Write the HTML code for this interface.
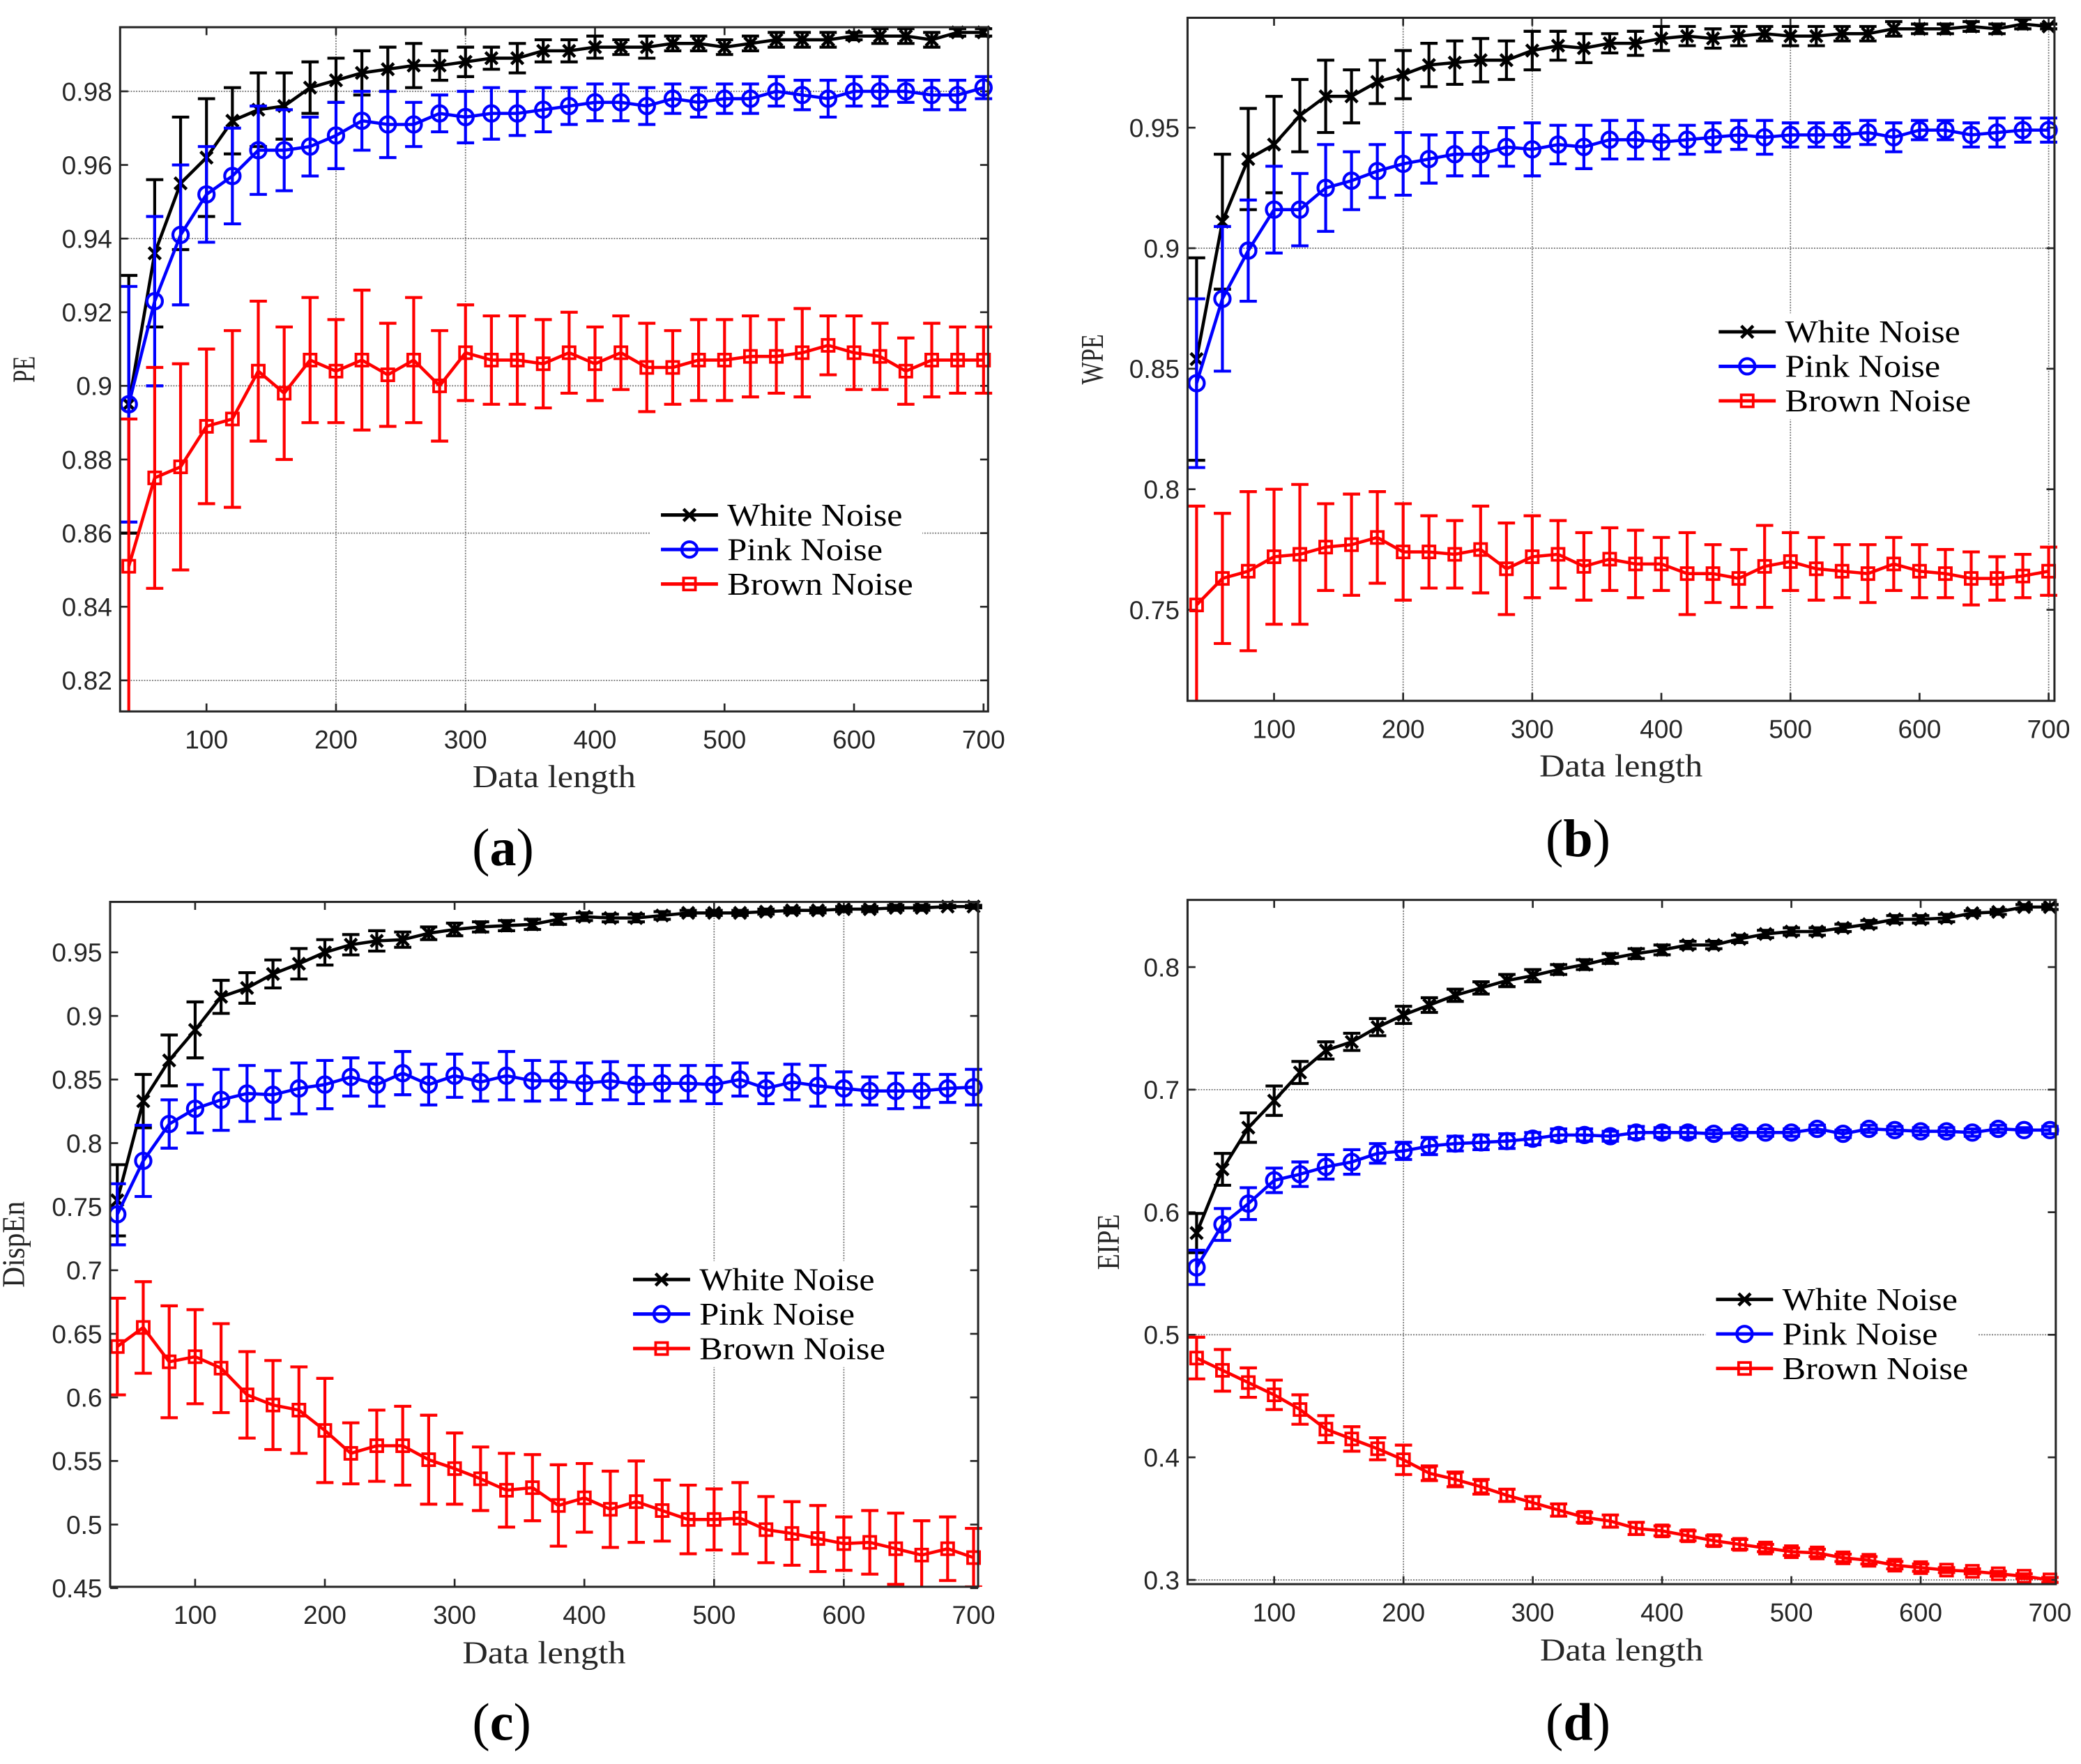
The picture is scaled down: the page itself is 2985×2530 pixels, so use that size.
<!DOCTYPE html>
<html><head><meta charset="utf-8"><style>
html,body{margin:0;padding:0;background:#fff;}
svg{display:block;}
</style></head><body>
<svg id="fig" width="2985" height="2530" viewBox="0 0 1568 1329" preserveAspectRatio="none" xmlns="http://www.w3.org/2000/svg"></svg>
<script>
const xs = [40,60,80,100,120,140,160,180,200,220,240,260,280,300,320,340,360,380,400,420,440,460,480,500,520,540,560,580,600,620,640,660,680,700];
const xTicks = [100,200,300,400,500,600,700];

const peWhite = [0.895,0.936,0.955,0.962,0.972,0.975,0.976,0.981,0.983,0.985,0.986,0.987,0.987,0.988,0.989,0.989,0.991,0.991,0.992,0.992,0.992,0.993,0.993,0.992,0.993,0.994,0.994,0.994,0.995,0.995,0.995,0.994,0.996,0.996];
const peWhiteErr = [0.035,0.02,0.018,0.016,0.009,0.01,0.009,0.007,0.006,0.006,0.006,0.006,0.004,0.004,0.003,0.004,0.003,0.003,0.003,0.002,0.003,0.002,0.002,0.002,0.002,0.002,0.002,0.002,0.001,0.002,0.002,0.002,0.001,0.001];
const pePink = [0.895,0.923,0.941,0.952,0.957,0.964,0.964,0.965,0.968,0.972,0.971,0.971,0.974,0.973,0.974,0.974,0.975,0.976,0.977,0.977,0.976,0.978,0.977,0.978,0.978,0.980,0.979,0.978,0.980,0.980,0.980,0.979,0.979,0.981];
const pePinkErr = [0.032,0.023,0.019,0.013,0.013,0.012,0.011,0.008,0.009,0.008,0.009,0.006,0.005,0.007,0.007,0.006,0.006,0.005,0.005,0.005,0.005,0.004,0.004,0.004,0.004,0.004,0.004,0.005,0.004,0.004,0.003,0.004,0.004,0.003];
const peBrown = [0.851,0.875,0.878,0.889,0.891,0.904,0.898,0.907,0.904,0.907,0.903,0.907,0.900,0.909,0.907,0.907,0.906,0.909,0.906,0.909,0.905,0.905,0.907,0.907,0.908,0.908,0.909,0.911,0.909,0.908,0.904,0.907,0.907,0.907];
const peBrownErr = [0.04,0.030,0.028,0.021,0.024,0.019,0.018,0.017,0.014,0.019,0.014,0.017,0.015,0.013,0.012,0.012,0.012,0.011,0.010,0.010,0.012,0.010,0.011,0.011,0.011,0.010,0.012,0.008,0.010,0.009,0.009,0.010,0.009,0.009];
const peTicks = [0.82,0.84,0.86,0.88,0.9,0.92,0.94,0.96,0.98];

const wpeWhite = [0.854,0.911,0.937,0.943,0.955,0.963,0.963,0.969,0.972,0.976,0.977,0.978,0.978,0.982,0.984,0.983,0.985,0.985,0.987,0.988,0.987,0.988,0.989,0.988,0.988,0.989,0.989,0.991,0.991,0.991,0.992,0.991,0.993,0.992];
const wpeWhiteErr = [0.042,0.028,0.021,0.02,0.015,0.015,0.011,0.009,0.01,0.009,0.009,0.009,0.008,0.008,0.006,0.006,0.004,0.005,0.005,0.004,0.004,0.004,0.003,0.004,0.004,0.003,0.003,0.003,0.002,0.002,0.002,0.002,0.002,0.001];
const wpePink = [0.844,0.879,0.899,0.916,0.916,0.925,0.928,0.932,0.935,0.937,0.939,0.939,0.942,0.941,0.943,0.942,0.945,0.945,0.944,0.945,0.946,0.947,0.946,0.947,0.947,0.947,0.948,0.946,0.949,0.949,0.947,0.948,0.949,0.949];
const wpePinkErr = [0.035,0.03,0.021,0.018,0.015,0.018,0.012,0.011,0.013,0.01,0.009,0.009,0.008,0.011,0.008,0.009,0.008,0.008,0.007,0.006,0.006,0.006,0.007,0.005,0.005,0.005,0.005,0.006,0.004,0.004,0.005,0.006,0.005,0.005];
const wpeBrown = [0.752,0.763,0.766,0.772,0.773,0.776,0.777,0.780,0.774,0.774,0.773,0.775,0.767,0.772,0.773,0.768,0.771,0.769,0.769,0.765,0.765,0.763,0.768,0.770,0.767,0.766,0.765,0.769,0.766,0.765,0.763,0.763,0.764,0.766];
const wpeBrownErr = [0.041,0.027,0.033,0.028,0.029,0.018,0.021,0.019,0.02,0.015,0.014,0.018,0.019,0.017,0.014,0.014,0.013,0.014,0.011,0.017,0.012,0.012,0.017,0.012,0.013,0.011,0.012,0.011,0.011,0.010,0.011,0.009,0.009,0.010];
const wpeTicks = [0.75,0.8,0.85,0.9,0.95];

const dispWhite = [0.755,0.833,0.865,0.889,0.915,0.922,0.933,0.941,0.950,0.956,0.959,0.960,0.965,0.968,0.970,0.971,0.972,0.976,0.978,0.977,0.977,0.979,0.981,0.981,0.981,0.982,0.983,0.983,0.984,0.984,0.985,0.985,0.986,0.986];
const dispWhiteErr = [0.028,0.021,0.02,0.022,0.013,0.012,0.011,0.012,0.010,0.008,0.008,0.006,0.005,0.005,0.004,0.004,0.004,0.004,0.003,0.003,0.003,0.003,0.002,0.002,0.002,0.002,0.002,0.002,0.002,0.002,0.002,0.002,0.001,0.001];
const dispPink = [0.744,0.786,0.815,0.827,0.834,0.839,0.838,0.843,0.846,0.852,0.846,0.855,0.846,0.853,0.848,0.853,0.849,0.849,0.847,0.849,0.846,0.847,0.847,0.846,0.850,0.843,0.848,0.845,0.843,0.841,0.841,0.841,0.843,0.844];
const dispPinkErr = [0.024,0.028,0.019,0.019,0.024,0.022,0.019,0.02,0.019,0.015,0.017,0.017,0.016,0.017,0.015,0.019,0.016,0.015,0.016,0.015,0.015,0.014,0.014,0.015,0.013,0.012,0.014,0.016,0.013,0.011,0.014,0.013,0.011,0.014];
const dispBrown = [0.640,0.655,0.628,0.632,0.623,0.602,0.594,0.590,0.574,0.556,0.562,0.562,0.551,0.544,0.536,0.527,0.529,0.515,0.521,0.512,0.518,0.511,0.504,0.504,0.505,0.496,0.493,0.489,0.485,0.486,0.481,0.476,0.481,0.474];
const dispBrownErr = [0.038,0.036,0.044,0.037,0.035,0.034,0.035,0.034,0.041,0.024,0.028,0.031,0.035,0.028,0.025,0.029,0.026,0.032,0.027,0.03,0.032,0.024,0.027,0.024,0.028,0.026,0.025,0.026,0.021,0.025,0.028,0.027,0.025,0.023];
const dispTicks = [0.45,0.5,0.55,0.6,0.65,0.7,0.75,0.8,0.85,0.9,0.95];

const eipeWhite = [0.583,0.635,0.669,0.691,0.714,0.732,0.739,0.751,0.761,0.769,0.777,0.783,0.789,0.793,0.798,0.802,0.807,0.811,0.814,0.818,0.818,0.823,0.827,0.829,0.829,0.832,0.835,0.839,0.839,0.840,0.844,0.845,0.849,0.849];
const eipeWhiteErr = [0.016,0.013,0.012,0.012,0.009,0.007,0.007,0.007,0.007,0.006,0.005,0.005,0.005,0.005,0.004,0.004,0.004,0.004,0.004,0.003,0.003,0.003,0.003,0.003,0.003,0.003,0.003,0.003,0.003,0.003,0.002,0.002,0.002,0.002];
const eipePink = [0.555,0.590,0.607,0.626,0.631,0.637,0.641,0.648,0.650,0.654,0.656,0.657,0.658,0.660,0.663,0.663,0.662,0.665,0.665,0.665,0.664,0.665,0.665,0.665,0.668,0.664,0.668,0.667,0.666,0.666,0.665,0.668,0.667,0.667];
const eipePinkErr = [0.014,0.013,0.013,0.01,0.01,0.01,0.01,0.008,0.007,0.007,0.006,0.006,0.006,0.005,0.005,0.005,0.004,0.005,0.004,0.004,0.003,0.003,0.003,0.003,0.003,0.003,0.003,0.003,0.003,0.003,0.003,0.003,0.002,0.003];
const eipeBrown = [0.481,0.471,0.461,0.451,0.439,0.423,0.415,0.407,0.398,0.387,0.382,0.376,0.369,0.363,0.357,0.351,0.348,0.342,0.340,0.336,0.332,0.329,0.326,0.323,0.322,0.318,0.316,0.312,0.310,0.308,0.307,0.305,0.303,0.300];
const eipeBrownErr = [0.017,0.017,0.012,0.012,0.012,0.011,0.01,0.009,0.012,0.006,0.006,0.006,0.005,0.005,0.005,0.004,0.005,0.005,0.004,0.004,0.004,0.004,0.003,0.003,0.003,0.003,0.003,0.003,0.003,0.002,0.002,0.002,0.002,0.002];
const eipeTicks = [0.3,0.4,0.5,0.6,0.7,0.8];

const seriesNames = ["White Noise","Pink Noise","Brown Noise"];
const seriesColors = ["#000000","#0000ff","#ff0000"];
const seriesMarkers = ["x","o","s"];
const legendTextWidths = [132,117,140];

const NS = "http://www.w3.org/2000/svg";
const svg = document.getElementById('fig');
function mk(tag, attrs, parent){
  const e = document.createElementNS(NS, tag);
  for (const k in attrs) e.setAttribute(k, attrs[k]);
  (parent||svg).appendChild(e);
  return e;
}

const panels = [
  {id:'pe', letter:'(a)', ylabel:'PE', ylw:20, box:[90.5,20.5,744.5,536], xr:[33.3,703.5], ypx:[68.8,512.6], yv:[0.98,0.82],
   yTicks:peTicks, data:[[peWhite,peWhiteErr],[pePink,pePinkErr],[peBrown,peBrownErr]],
   gridY:[0.98,0.94,0.9,0.86,0.82], gridX:[200,300], ylabX:26, leg:[498,388], legBg:[490,374,205,80], letterY:652, xlabY:593, letterX:379},
  {id:'wpe', letter:'(b)', ylabel:'WPE', ylw:38, box:[894.8,13.4,1548,528], xr:[33,704.5], ypx:[96.2,459.4], yv:[0.95,0.75],
   yTicks:wpeTicks, data:[[wpeWhite,wpeWhiteErr],[wpePink,wpePinkErr],[wpeBrown,wpeBrownErr]],
   gridY:[0.9], gridX:[200,300,500,700], ylabX:831, leg:[1295,250], legBg:[1287,236,205,80], letterY:645, xlabY:585, letterX:1189},
  {id:'dispen', letter:'(c)', ylabel:'DispEn', ylw:65, box:[83,679.5,737,1195.5], xr:[34.5,703.5], ypx:[717.5,1196.5], yv:[0.95,0.45],
   yTicks:dispTicks, data:[[dispWhite,dispWhiteErr],[dispPink,dispPinkErr],[dispBrown,dispBrownErr]],
   gridY:[], gridX:[500,600], ylabX:18, leg:[477,964], legBg:[469,950,205,80], letterY:1311, xlabY:1253, letterX:378},
  {id:'eipe', letter:'(d)', ylabel:'EIPE', ylw:42, box:[894.8,678,1549,1193.5], xr:[33,704.5], ypx:[728.6,1190.3], yv:[0.8,0.3],
   yTicks:eipeTicks, data:[[eipeWhite,eipeWhiteErr],[eipePink,eipePinkErr],[eipeBrown,eipeBrownErr]],
   gridY:[0.7,0.5,0.3], gridX:[200], ylabX:843, leg:[1293,979], legBg:[1285,965,205,80], letterY:1311, xlabY:1251, letterX:1189}
];

panels.forEach(p=>{
  const [L,T,R,B] = p.box;
  const g = mk('g', {});
  
  
  const xS = v => L + (v - p.xr[0]) / (p.xr[1]-p.xr[0]) * (R-L);
  const yS = v => p.ypx[0] + (v - p.yv[0]) / (p.yv[1]-p.yv[0]) * (p.ypx[1]-p.ypx[0]);
  const clip = mk('clipPath', {id:'clip-'+p.id}, g);
  mk('rect', {x:L, y:T-8, width:R-L+6, height:B-T+8}, clip);
  p.gridY.forEach(v=>{
    const l = mk('line',{x1:L,x2:R,y1:yS(v),y2:yS(v),stroke:'#6e6e6e','stroke-width':0.9,'stroke-dasharray':'1 1'},g);
    
    
  });
  p.gridX.forEach(v=>{
    const l = mk('line',{x1:xS(v),x2:xS(v),y1:T,y2:B,stroke:'#6e6e6e','stroke-width':0.9,'stroke-dasharray':'1 1'},g);
    
    
  });
  const lb = p.legBg;
  const lbr = mk('rect',{x:lb[0],y:lb[1],width:lb[2],height:lb[3],fill:'#fff'},g);
  
  
  xTicks.forEach(v=>{
    const x = xS(v);
    mk('line',{x1:x,x2:x,y1:B,y2:B-6,stroke:'#262626','stroke-width':1.4},g);
    mk('line',{x1:x,x2:x,y1:T,y2:T+6,stroke:'#262626','stroke-width':1.4},g);
    const t = mk('text',{x:x,y:B+28,'text-anchor':'middle','font-size':19.5,fill:'#262626','font-family':'Liberation Sans, sans-serif'},g);
    t.textContent = v;
    
    
  });
  p.yTicks.forEach(v=>{
    const y = yS(v);
    mk('line',{x1:L,x2:L+6,y1:y,y2:y,stroke:'#262626','stroke-width':1.4},g);
    mk('line',{x1:R,x2:R-6,y1:y,y2:y,stroke:'#262626','stroke-width':1.4},g);
    const t = mk('text',{x:L-6,y:y+7,'text-anchor':'end','font-size':19.5,fill:'#262626','font-family':'Liberation Sans, sans-serif'},g);
    t.textContent = String(v);
    
    
  });
  const sg = mk('g',{'clip-path':'url(#clip-'+p.id+')'},g);
  p.data.forEach((d,si)=>{
    const [vals, errs] = d;
    const col = seriesColors[si];
    const s = mk('g',{},sg);
    
    
    vals.forEach((v,i)=>{
      const x = xS(xs[i]);
      const y1 = yS(v+errs[i]), y2 = yS(v-errs[i]);
      const eb = mk('path',{d:`M${x},${y1}V${y2}M${x-6.5},${y1}H${x+6.5}M${x-6.5},${y2}H${x+6.5}`,stroke:col,'stroke-width':2.2,fill:'none'},s);
      
      
    });
    const pts = vals.map((v,i)=>xS(xs[i]).toFixed(2)+','+yS(v).toFixed(2)).join(' ');
    const pl = mk('polyline',{points:pts,fill:'none',stroke:col,'stroke-width':2.4,'stroke-linejoin':'round'},s);
    
    
    vals.forEach((v,i)=>{
      drawMarker(s, seriesMarkers[si], xS(xs[i]), yS(v), col);
    });
  });
  const bx = mk('rect',{x:L,y:T,width:R-L,height:B-T,fill:'none',stroke:'#262626','stroke-width':1.6},g);
  
  
  const [lx,ly] = p.leg;
  const lgg = mk('g',{},g);
  
  
  seriesNames.forEach((nm,si)=>{
    const y = ly + si*26;
    const e = mk('g',{},lgg);
    
    
    mk('line',{x1:lx,x2:lx+43,y1:y,y2:y,stroke:seriesColors[si],'stroke-width':2.6},e);
    drawMarker(e, seriesMarkers[si], lx+21.5, y, seriesColors[si]);
    const t = mk('text',{x:lx+50,y:y+8,'font-size':24,fill:'#000','font-family':'Liberation Serif, serif',textLength:legendTextWidths[si],lengthAdjust:'spacingAndGlyphs'},e);
    t.textContent = nm;
  });
  const xl = mk('text',{x:(L+R)/2,y:p.xlabY,'text-anchor':'middle','font-size':24,fill:'#262626','font-family':'Liberation Serif, serif',textLength:123,lengthAdjust:'spacingAndGlyphs'},g);
  xl.textContent = 'Data length';
  
  
  const yc = (T+B)/2;
  const yl = mk('text',{x:p.ylabX,y:yc,'text-anchor':'middle','font-size':24,fill:'#262626','font-family':'Liberation Serif, serif',textLength:p.ylw,lengthAdjust:'spacingAndGlyphs',transform:`rotate(-90 ${p.ylabX} ${yc})`},g);
  yl.textContent = p.ylabel;
  
  
  const lt = mk('text',{x:p.letterX,y:p.letterY,'text-anchor':'middle','font-size':40,fill:'#000','font-family':'Liberation Serif, serif'},g);
  lt.innerHTML = '(<tspan font-weight="bold">'+p.letter[1]+'</tspan>)';
  
  
});

function drawMarker(parent, type, x, y, col){
  let m;
  if (type==='x') {
    m = mk('path',{d:`M${x-4.5},${y-4.5}L${x+4.5},${y+4.5}M${x-4.5},${y+4.5}L${x+4.5},${y-4.5}`,stroke:col,'stroke-width':2.4,fill:'none'},parent);
  } else if (type==='o') {
    m = mk('circle',{cx:x,cy:y,r:5.8,stroke:col,'stroke-width':2.2,fill:'none'},parent);
  } else {
    m = mk('rect',{x:x-4.5,y:y-4.5,width:9,height:9,stroke:col,'stroke-width':2,fill:'none'},parent);
  }
  
  
}
</script>
</body></html>
